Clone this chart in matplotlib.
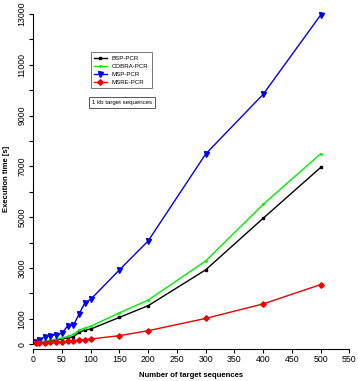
import numpy as np
import matplotlib
matplotlib.use("Agg")
import matplotlib.pyplot as plt

plt.rcParams["font.family"] = ["Liberation Sans", "DejaVu Sans"]

# Data
n_targets = [5, 10, 20, 30, 40, 50, 60, 70, 80, 90, 100, 150, 200, 300, 400, 500]
bsp = [50, 70, 100, 130, 160, 210, 250, 300, 470, 560, 600, 1060, 1520, 2930, 4960, 6960]
cobra = [60, 80, 120, 160, 200, 250, 310, 390, 560, 640, 710, 1240, 1740, 3280, 5510, 7500]
msp = [80, 180, 300, 340, 380, 430, 730, 750, 1200, 1640, 1770, 2930, 4070, 7490, 9840, 12960]
msre = [40, 50, 63, 79, 90, 102, 118, 142, 157, 181, 209, 340, 535, 1020, 1590, 2350]

series = [
    ("BSP-PCR", bsp, "black", "s", 1.8),
    ("COBRA-PCR", cobra, "#00ee00", "o", 1.0),
    ("MSP-PCR", msp, "#0000ee", "v", 3.6),
    ("MSRE-PCR", msre, "#ee0000", "D", 2.8),
]

W, H = 358, 381
fig = plt.figure(figsize=(W / 100, H / 100), dpi=100)
ax = fig.add_axes([33.2 / W, 1 - 344.3 / H, (349.4 - 33.2) / W, (344.3 - 14) / H])

for name, vals, col, mk, ms in series:
    ax.plot(n_targets, vals, color=col, marker=mk, markersize=ms, lw=1.0,
            label=name, clip_on=False)

ax.set_xlim(0, 550)
ax.set_ylim(0, 13000)
for s in ["top", "right"]:
    ax.spines[s].set_visible(False)
ax.spines["left"].set_bounds(0, 13000)
ax.spines["bottom"].set_bounds(0, 550)
ax.spines["bottom"].set_position(("outward", 3.2))
ax.spines["left"].set_position(("outward", 0.5))

ax.set_xticks(np.arange(0, 551, 50))
ax.set_yticks(np.arange(0, 13001, 1000))
ylabels = [str(v) if (v // 1000) % 2 == 1 or v == 0 else "" for v in range(0, 13001, 1000)]
ax.set_yticklabels(ylabels, rotation=90, va="center")
ax.tick_params(axis="both", labelsize=6.3, length=3, width=0.8, pad=1.5)

ax.set_xlabel("Number of target sequences", fontsize=5.6, fontweight="bold", labelpad=6)
ax.set_ylabel("Execution time [s]", fontsize=5.6, fontweight="bold", labelpad=5)

leg = fig.legend(loc="upper left", bbox_to_anchor=(90.7 / W, 1 - 51.7 / H),
                 fontsize=4.4, frameon=True, fancybox=False, borderaxespad=0,
                 handlelength=2.0, labelspacing=0.45, borderpad=0.6,
                 handletextpad=0.8)
leg.get_frame().set_edgecolor("#555555")
leg.get_frame().set_linewidth(0.7)

fig.text(92 / W, 1 - 102.5 / H, "1 kb target sequences", fontsize=4.4, va="center", ha="left",
         bbox=dict(boxstyle="square,pad=0.5", fc="white", ec="#555555", lw=0.7))

fig.savefig("out.png", dpi=100)
